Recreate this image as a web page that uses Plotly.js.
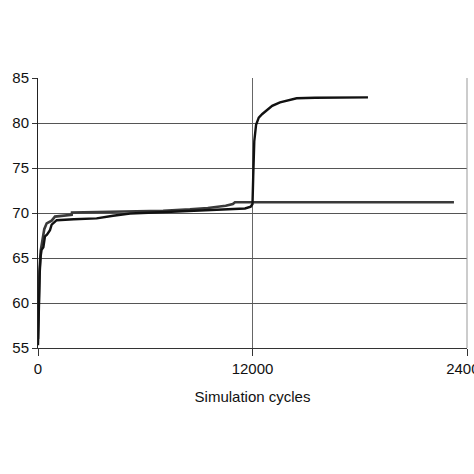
<!DOCTYPE html>
<html><head><meta charset="utf-8">
<script src="https://cdn.plot.ly/plotly-3.0.1.min.js"></script>
<style>html,body{margin:0;padding:0;background:#fff;}#c{width:474px;height:474px;}</style>
</head><body><div id="c"></div>
<script>
const seriesA_x = [0, 30, 60, 100, 150, 200, 300, 390, 500, 670, 765, 900, 1045, 2000, 3280, 4200, 5150, 6500, 8500, 9500, 10500, 11580, 11900, 12000, 12040, 12100, 12200, 12350, 12550, 12790, 13100, 13540, 14000, 14470, 15500, 16330, 17500, 18460];
const seriesA_y = [55.3, 58, 61, 63.5, 65.2, 65.9, 66.2, 67.4, 67.6, 68.1, 68.7, 69.0, 69.2, 69.3, 69.4, 69.7, 69.95, 70.05, 70.25, 70.35, 70.45, 70.5, 70.7, 71.0, 74, 78, 79.8, 80.6, 81.0, 81.4, 81.9, 82.3, 82.55, 82.75, 82.8, 82.8, 82.8, 82.85];
const seriesB_x = [0, 40, 80, 150, 260, 350, 485, 765, 950, 1500, 1885, 1900, 3000, 5000, 7000, 8500, 9500, 10500, 10900, 11020, 12000, 15000, 20000, 23270];
const seriesB_y = [56, 60, 63.5, 65.8, 67.4, 68.2, 68.85, 69.15, 69.6, 69.7, 69.8, 70.05, 70.1, 70.15, 70.25, 70.4, 70.55, 70.8, 71.0, 71.2, 71.2, 71.2, 71.2, 71.2];
const xTicks = [0, 12000, 24000];
const yTicks = [55, 60, 65, 70, 75, 80, 85];
const xTitle = "Simulation cycles";

const traces = [
  {x: seriesB_x, y: seriesB_y, mode: 'lines', line: {color: '#3a3a3a', width: 2.6}, showlegend: false, hoverinfo: 'skip'},
  {x: seriesA_x, y: seriesA_y, mode: 'lines', line: {color: '#111111', width: 2.4}, showlegend: false, hoverinfo: 'skip'}
];
const layout = {
  width: 474, height: 474,
  margin: {l: 38, r: 7, t: 78, b: 126},
  paper_bgcolor: '#fff', plot_bgcolor: '#fff',
  font: {family: 'Liberation Sans, Arial, sans-serif', size: 15, color: '#111'},
  xaxis: {
    range: [0, 24000], tickvals: xTicks, ticktext: xTicks.map(String),
    showgrid: true, gridcolor: '#666', gridwidth: 1,
    zeroline: false, showline: true, linecolor: '#333', linewidth: 1,
    ticks: 'outside', ticklen: 7, tickcolor: '#333',
    ticklabeloverflow: 'allow',
    title: {text: xTitle, font: {size: 15}, standoff: 15},
    tickfont: {size: 15}
  },
  yaxis: {
    range: [55, 85], tickvals: yTicks,
    showgrid: true, gridcolor: '#555', gridwidth: 1,
    zeroline: false, showline: true, linecolor: '#222', linewidth: 1,
    ticks: 'outside', ticklen: 5, tickcolor: '#333',
    tickfont: {size: 15}
  },
  shapes: [
    {type: 'line', xref: 'paper', yref: 'paper', x0: 1, x1: 1, y0: 0, y1: 1, line: {color: '#999', width: 1}}
  ]
};
Plotly.newPlot('c', traces, layout, {staticPlot: true, displayModeBar: false});
</script></body></html>
